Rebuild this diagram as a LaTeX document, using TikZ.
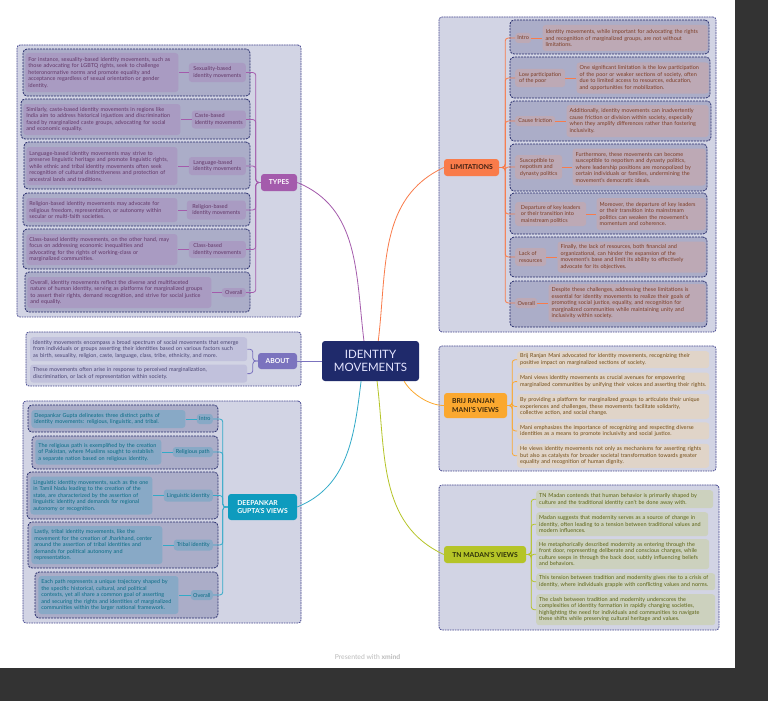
\documentclass[tikz,border=0pt]{standalone}
\usepackage{fontspec}
\setmainfont{Lato}
\usetikzlibrary{positioning,fit}
\definecolor{boundfill}{HTML}{D2D4E4}
\definecolor{bounddash}{HTML}{45478F}
\definecolor{zonefill}{HTML}{ABADC8}
\definecolor{zonedash}{HTML}{262C6B}
\definecolor{rootblue}{HTML}{1F2A6B}
\definecolor{typescol}{HTML}{A45BAC}
\definecolor{aboutcol}{HTML}{7B73BE}
\definecolor{deepcol}{HTML}{0E9BBE}
\definecolor{limitcol}{HTML}{F97B4A}
\definecolor{brijcol}{HTML}{FBA82F}
\definecolor{tncol}{HTML}{B5C427}
\definecolor{brijfill}{HTML}{E0D4C8}
\tikzstyle{boundary} = [rectangle, draw=bounddash, fill=boundfill, rounded corners=3pt, line width=0.8pt,
                   dash pattern=on 1.6pt off 0.9pt, inner sep=0pt]
\tikzstyle{zone} = [rectangle, draw=zonedash, fill=zonefill, rounded corners=4pt, line width=0.8pt,
                   dash pattern=on 2pt off 1pt, inner sep=0pt]
\tikzstyle{tag} = [rectangle, rounded corners=3pt, inner xsep=2pt, inner ysep=1pt, align=left, anchor=east,
                   font=\fontsize{5.5}{6.5}\selectfont]
\tikzstyle{note} = [rectangle, rounded corners=3pt, inner xsep=3pt, inner ysep=1pt, align=left,
                   font=\fontsize{5.5}{6.5}\selectfont]
\tikzstyle{topic} = [rectangle, rounded corners=3pt, font=\fontsize{6.8}{8.3}\selectfont\bfseries, align=left, inner sep=1pt]
\begin{document}
\begin{tikzpicture}[
		x=1pt, y=-1pt,
		typestag/.style={tag, fill=typescol!22!zonefill, text=typescol!60!black},
		typesnote/.style={note, fill=typescol!22!zonefill, text=typescol!60!black},
		aboutnote/.style={note, fill=aboutcol!20!boundfill, text=aboutcol!60!black},
		deeptag/.style={tag, fill=deepcol!22!zonefill, text=deepcol!70!black},
		deepnote/.style={note, fill=deepcol!22!zonefill, text=deepcol!70!black},
		limittag/.style={tag, fill=limitcol!18!zonefill!95!white, text=limitcol!50!black},
		limitnote/.style={note, fill=limitcol!18!zonefill!95!white, text=limitcol!50!black},
		brijnote/.style={note, fill=brijfill, text=brijcol!45!black},
		tnnote/.style={note, fill=tncol!20!boundfill, text=tncol!50!black},
		typeslink/.style={draw=typescol, line width=0.8pt, rounded corners=3pt},
		aboutlink/.style={draw=aboutcol, line width=0.8pt, rounded corners=3pt},
		deeplink/.style={draw=deepcol!85!white, line width=0.8pt, rounded corners=3pt},
		limitlink/.style={draw=limitcol, line width=0.8pt, rounded corners=3pt},
		brijlink/.style={draw=brijcol, line width=0.8pt, rounded corners=3pt},
		tnlink/.style={draw=tncol, line width=0.8pt, rounded corners=3pt},
	]
	\useasboundingbox (0,0) rectangle (768,701);

	% Page
	\fill[black!80] (0,0) rectangle (768,701);
	\fill[white] (0,0) rectangle (735,668);

	% Boundaries
	\node[boundary, fit={(17,45) (301,317)}] (typesbound) {};
	\node[boundary, fit={(26,332) (301,386)}] (aboutbound) {};
	\node[boundary, fit={(23,401) (301,623)}] (deepbound) {};
	\node[boundary, fit={(439,17) (716,332)}] (limitbound) {};
	\node[boundary, fit={(439,346) (716,471)}] (brijbound) {};
	\node[boundary, fit={(439,485) (719,630)}] (tnbound) {};

	% Root
	\node[rectangle, fill=rootblue, rounded corners=3pt, text=white!90!blue, minimum width=97pt, minimum height=40pt,
		font=\fontsize{11.5}{13}\selectfont, align=center] (root) at (370.5,361) {IDENTITY\\MOVEMENTS};

	% Types branch
	\node[topic, fill=typescol, text=white, minimum width=36pt, minimum height=17pt] (types) at (279,182.5) {TYPES};
	\node[zone, fit={(23,49) (250,96)}] (sexualzone) {};
	\node[zone, fit={(21,99) (250,139)}] (castezone) {};
	\node[zone, fit={(24,142) (250,189)}] (langzone) {};
	\node[zone, fit={(23,193) (250,226)}] (religzone) {};
	\node[zone, fit={(23,229) (250,269)}] (classzone) {};
	\node[zone, fit={(25,272) (250,312)}] (overallzone) {};

	\node[typestag, minimum width=57pt, minimum height=19pt] (sexual) at (246,72.5) {Sexuality-based\\identity movements};
	\node[typesnote, left=10pt of sexual, text width=147pt, minimum height=39pt] (sexualtext) {For instance, sexuality-based identity movements, such as\\those advocating for LGBTQ rights, seek to challenge\\heteronormative norms and promote equality and\\acceptance regardless of sexual orientation or gender\\identity.};
	\node[typestag, minimum width=54pt, minimum height=18pt] (caste) at (246,119.5) {Caste-based\\identity movements};
	\node[typesnote, left=11pt of caste, text width=151pt, minimum height=31pt] (castetext) {Similarly, caste-based identity movements in regions like\\India aim to address historical injustices and discrimination\\faced by marginalized caste groups, advocating for social\\and economic equality.};
	\node[typestag, minimum width=57pt, minimum height=18pt] (lang) at (246,166) {Language-based\\identity movements};
	\node[typesnote, left=11pt of lang, text width=145pt, minimum height=38pt] (langtext) {Language-based identity movements may strive to\\preserve linguistic heritage and promote linguistic rights,\\while ethnic and tribal identity movements often seek\\recognition of cultural distinctiveness and protection of\\ancestral lands and traditions.};
	\node[typestag, minimum width=59pt, minimum height=19pt] (relig) at (246,210) {Religion-based\\identity movements};
	\node[typesnote, left=9pt of relig, text width=145pt, minimum height=24pt] (religtext) {Religion-based identity movements may advocate for\\religious freedom, representation, or autonomy within\\secular or multi-faith societies.};
	\node[typestag, minimum width=57pt, minimum height=17pt] (class) at (246,249.5) {Class-based\\identity movements};
	\node[typesnote, left=11pt of class, text width=145pt, minimum height=31pt] (classtext) {Class-based identity movements, on the other hand, may\\focus on addressing economic inequalities and\\advocating for the rights of working-class or\\marginalized communities.};
	\node[typestag, minimum width=24pt, minimum height=9pt] (overall) at (246,292.5) {Overall};
	\node[typesnote, left=10pt of overall, text width=178pt, minimum height=31pt] (overalltext) {Overall, identity movements reflect the diverse and multifaceted\\nature of human identity, serving as platforms for marginalized groups\\to assert their rights, demand recognition, and strive for social justice\\and equality.};

	% About branch
	\node[topic, fill=aboutcol, text=white, minimum width=39pt, minimum height=16pt] (about) at (277.5,361) {ABOUT};
	\node[aboutnote, text width=211pt, minimum height=24pt, anchor=north west] (aboutone) at (30,337) {Identity movements encompass a broad spectrum of social movements that emerge\\from individuals or groups asserting their identities based on various factors such\\as birth, sexuality, religion, caste, language, class, tribe, ethnicity, and more.};
	\node[aboutnote, text width=211pt, minimum height=18pt, below=3pt of aboutone] (abouttwo) {These movements often arise in response to perceived marginalization,\\discrimination, or lack of representation within society.};

	% Deepankar branch
	\node[topic, fill=deepcol, text=white, minimum width=69pt, minimum height=26pt] (deep) at (262.5,507) {DEEPANKAR\\GUPTA'S VIEWS};
	\node[zone, fit={(28,405) (218,432)}] (introzone) {};
	\node[zone, fit={(32,436) (218,469)}] (pathzone) {};
	\node[zone, fit={(27,472) (218,519)}] (lingzone) {};
	\node[zone, fit={(28,522) (218,568)}] (tribezone) {};
	\node[zone, fit={(35,572) (218,618)}] (deepoverzone) {};

	\node[deeptag, minimum width=16pt, minimum height=10pt] (intro) at (213,419) {Intro};
	\node[deepnote, left=11pt of intro, text width=148pt, minimum height=18pt] (introtext) {Deepankar Gupta delineates three distinct paths of\\identity movements: religious, linguistic, and tribal.};
	\node[deeptag, minimum width=40pt, minimum height=10pt] (relpath) at (213,452) {Religious path};
	\node[deepnote, left=11pt of relpath, text width=120pt, minimum height=25pt] (relpathtext) {The religious path is exemplified by the creation\\of Pakistan, where Muslims sought to establish\\a separate nation based on religious identity.};
	\node[deeptag, minimum width=49pt, minimum height=12pt] (lingid) at (213,495.5) {Linguistic identity};
	\node[deepnote, left=11pt of lingid, text width=116pt, minimum height=38pt] (lingidtext) {Linguistic identity movements, such as the one\\in Tamil Nadu leading to the creation of the\\state, are characterized by the assertion of\\linguistic identity and demands for regional\\autonomy or recognition.};
	\node[deeptag, minimum width=39pt, minimum height=11pt] (tribeid) at (213,545) {Tribal identity};
	\node[deepnote, left=11pt of tribeid, text width=125pt, minimum height=38pt] (tribeidtext) {Lastly, tribal identity movements, like the\\movement for the creation of Jharkhand, center\\around the assertion of tribal identities and\\demands for political autonomy and\\representation.};
	\node[deeptag, minimum width=22pt, minimum height=10pt] (deepover) at (213,595) {Overall};
	\node[deepnote, left=12pt of deepover, text width=134pt, minimum height=38pt] (deepovertext) {Each path represents a unique trajectory shaped by\\the specific historical, cultural, and political\\contexts, yet all share a common goal of asserting\\and securing the rights and identities of marginalized\\communities within the larger national framework.};

	% Limitations branch
	\node[topic, fill=limitcol, text=black!75!limitcol, minimum width=55pt, minimum height=17pt] (limit) at (471.5,167.5) {LIMITATIONS};
	\node[zone, fit={(510,20) (709,54)}] (limintrozone) {};
	\node[zone, fit={(510,57) (710,98)}] (lowzone) {};
	\node[zone, fit={(510,101) (711,141)}] (frictzone) {};
	\node[zone, fit={(510,144) (707,191)}] (nepozone) {};
	\node[zone, fit={(510,193) (707,234)}] (leadzone) {};
	\node[zone, fit={(510,237) (707,277)}] (lackzone) {};
	\node[zone, fit={(510,281) (707,327)}] (limoverzone) {};

	\node[limittag, anchor=west, minimum width=16pt, minimum height=10pt] (limintro) at (515,38) {Intro};
	\node[limitnote, right=11pt of limintro, text width=159pt, minimum height=26pt] (limintrotext) {Identity movements, while important for advocating the rights\\and recognition of marginalized groups, are not without\\limitations.};
	\node[limittag, anchor=west, minimum width=50pt, minimum height=18pt] (low) at (515,78) {Low participation\\of the poor};
	\node[limitnote, right=11pt of low, text width=126pt, minimum height=31pt] (lowtext) {One significant limitation is the low participation\\of the poor or weaker sections of society, often\\due to limited access to resources, education,\\and opportunities for mobilization.};
	\node[limittag, anchor=west, minimum width=40pt, minimum height=10pt] (frict) at (515,121) {Cause friction};
	\node[limitnote, right=11pt of frict, text width=136pt, minimum height=32pt] (fricttext) {Additionally, identity movements can inadvertently\\cause friction or division within society, especially\\when they amplify differences rather than fostering\\inclusivity.};
	\node[limittag, anchor=west, minimum width=47pt, minimum height=24pt] (nepo) at (515,167) {Susceptible to\\nepotism and\\dynasty politics};
	\node[limitnote, right=10pt of nepo, text width=127pt, minimum height=37pt] (nepotext) {Furthermore, these movements can become\\susceptible to nepotism and dynasty politics,\\where leadership positions are monopolized by\\certain individuals or families, undermining the\\movement's democratic ideals.};
	\node[limittag, anchor=west, minimum width=71pt, minimum height=24pt] (lead) at (515,214) {Departure of key leaders\\or their transition into\\mainstream politics};
	\node[limitnote, right=10pt of lead, text width=103pt, minimum height=32pt] (leadtext) {Moreover, the departure of key leaders\\or their transition into mainstream\\politics can weaken the movement's\\momentum and coherence.};
	\node[limittag, anchor=west, minimum width=31pt, minimum height=18pt] (lack) at (515,257) {Lack of\\resources};
	\node[limitnote, right=11pt of lack, text width=142pt, minimum height=31pt] (lacktext) {Finally, the lack of resources, both financial and\\organizational, can hinder the expansion of the\\movement's base and limit its ability to effectively\\advocate for its objectives.};
	\node[limittag, anchor=west, minimum width=22pt, minimum height=10pt] (limover) at (515,303) {Overall};
	\node[limitnote, right=11pt of limover, text width=151pt, minimum height=38pt] (limovertext) {Despite these challenges, addressing these limitations is\\essential for identity movements to realize their goals of\\promoting social justice, equality, and recognition for\\marginalized communities while maintaining unity and\\inclusivity within society.};

	% Brij branch
	\node[topic, fill=brijcol, text=black!75!brijcol, minimum width=63pt, minimum height=25pt] (brij) at (475.5,405.5) {BRIJ RANJAN\\MANI'S VIEWS};
	\node[brijnote, text width=186pt, minimum height=17pt, anchor=north west] (brijone) at (517,351) {Brij Ranjan Mani advocated for identity movements, recognizing their\\positive impact on marginalized sections of society.};
	\node[brijnote, text width=186pt, minimum height=18pt, below=4pt of brijone] (brijtwo) {Mani views identity movements as crucial avenues for empowering\\marginalized communities by unifying their voices and asserting their rights.};
	\node[brijnote, text width=186pt, minimum height=25pt, below=3pt of brijtwo] (brijthree) {By providing a platform for marginalized groups to articulate their unique\\experiences and challenges, these movements facilitate solidarity,\\collective action, and social change.};
	\node[brijnote, text width=186pt, minimum height=17pt, below=3pt of brijthree] (brijfour) {Mani emphasizes the importance of recognizing and respecting diverse\\identities as a means to promote inclusivity and social justice.};
	\node[brijnote, text width=186pt, minimum height=24pt, below=4pt of brijfour] (brijfive) {He views identity movements not only as mechanisms for asserting rights\\but also as catalysts for broader societal transformation towards greater\\equality and recognition of human dignity.};

	% TN Madan branch
	\node[topic, fill=tncol, text=black!75!tncol, minimum width=82pt, minimum height=17pt] (tn) at (485,554.5) {TN MADAN'S VIEWS};
	\node[tnnote, text width=171pt, minimum height=18pt, anchor=north west] (tnone) at (536,490) {TN Madan contends that human behavior is primarily shaped by\\culture and the traditional identity can't be done away with.};
	\node[tnnote, text width=166pt, minimum height=24pt, anchor=north west] (tntwo) at (536,512) {Madan suggests that modernity serves as a source of change in\\identity, often leading to a tension between traditional values and\\modern influences.};
	\node[tnnote, text width=167pt, minimum height=30pt, anchor=north west] (tnthree) at (536,539) {He metaphorically described modernity as entering through the\\front door, representing deliberate and conscious changes, while\\culture seeps in through the back door, subtly influencing beliefs\\and behaviors.};
	\node[tnnote, text width=173pt, minimum height=17pt, anchor=north west] (tnfour) at (536,573) {This tension between tradition and modernity gives rise to a crisis of\\identity, where individuals grapple with conflicting values and norms.};
	\node[tnnote, text width=173pt, minimum height=31pt, anchor=north west] (tnfive) at (536,594) {The clash between tradition and modernity underscores the\\complexities of identity formation in rapidly changing societies,\\highlighting the need for individuals and communities to navigate\\these shifts while preserving cultural heritage and values.};

	% Footer
	\node[font=\fontsize{6.8}{8}\selectfont, text=black!27, inner sep=0pt] (footer) at (367.5,657) {Presented with \textbf{xmind}};

	% Connections from root
	\draw[typeslink] (root.108) to[out=97,in=-22,looseness=1.0] (types.east);
	\draw[limitlink] (root.69) to[out=83,in=205,looseness=1.0] (limit.west);
	\draw[aboutlink] (root.west) -- (about.east);
	\draw[deeplink] (root.245) to[out=-97,in=22,looseness=1.0] (deep.east);
	\draw[tnlink] (root.288) to[out=-83,in=155,looseness=1.0] (tn.west);
	\draw[brijlink] (root.329) to[out=-60,in=180,looseness=0.8] (brij.west);

	% Connections within branches
	\foreach \name in {sexual,caste,lang,relig,class,overall}{
		\draw[typeslink] (types.west) -- ++(-5,0) |- (\name.east);
		\draw[typeslink] (\name.west) -- (\name text.east);
	}
	\draw[aboutlink] (about.west) -- ++(-5,0) |- (aboutone.east);
	\draw[aboutlink] (about.west) -- ++(-5,0) |- (abouttwo.east);
	\foreach \name in {intro,relpath,lingid,tribeid,deepover}{
		\draw[deeplink] (deep.west) -- ++(-5,0) |- (\name.east);
		\draw[deeplink] (\name.west) -- (\name text.east);
	}
	\foreach \name in {limintro,low,frict,nepo,lead,lack,limover}{
		\draw[limitlink] (limit.east) -- ++(6,0) |- (\name.west);
		\draw[limitlink] (\name.east) -- (\name text.west);
	}
	\foreach \name in {brijone,brijtwo,brijthree,brijfour,brijfive}{
		\draw[brijlink] (brij.east) -- ++(5,0) |- (\name.west);
	}
	\foreach \name in {tnone,tntwo,tnthree,tnfour,tnfive}{
		\draw[tnlink] (tn.east) -- ++(5,0) |- (\name.west);
	}
\end{tikzpicture}
\end{document}
